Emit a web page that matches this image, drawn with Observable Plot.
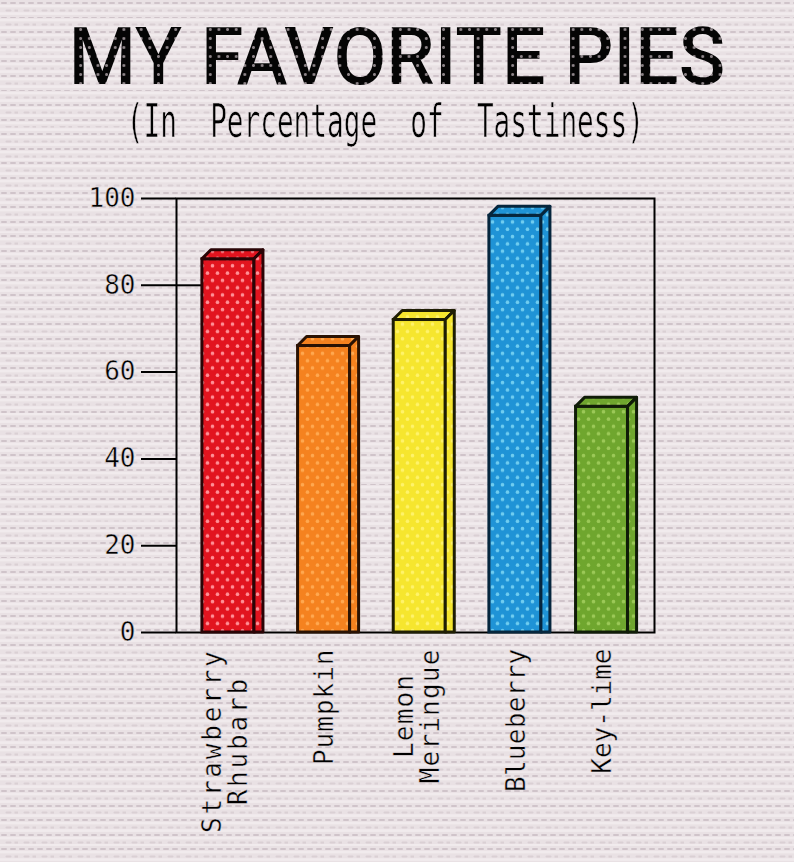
<!DOCTYPE html>
<html>
<head>
<meta charset="utf-8">
<script src="https://cdn.jsdelivr.net/npm/d3@7"></script>
<script src="https://cdn.jsdelivr.net/npm/@observablehq/plot@0.6"></script>
<style>
html,body{margin:0;padding:0;width:794px;height:862px;overflow:hidden;}
body{
  background-color:#e9e1e4;
  background-image:url("data:image/svg+xml,%3Csvg xmlns='http://www.w3.org/2000/svg' width='18' height='14.6'%3E%3Crect x='0' y='0' width='18' height='14.6' fill='%23e9e1e4'/%3E%3Crect x='0' y='4.6' width='18' height='2.6' fill='%23f1ebed'/%3E%3Crect x='0' y='11.9' width='18' height='2.6' fill='%23f1ebed'/%3E%3Crect x='1' y='2' width='6' height='2' rx='1' fill='%23c8bbc1' opacity='.75'/%3E%3Crect x='10' y='2' width='6' height='2' rx='1' fill='%23c8bbc1' opacity='.75'/%3E%3Crect x='5.5' y='9.3' width='6' height='2' rx='1' fill='%23d0c4ca' opacity='.6'/%3E%3Crect x='14.5' y='9.3' width='3.5' height='2' fill='%23d0c4ca' opacity='.6'/%3E%3C/svg%3E");
}
#head{position:relative;height:160px;width:794px;overflow:hidden;}
#title{position:absolute;left:0;width:794px;top:25px;text-align:center;white-space:nowrap;
  font:500 80px/64px Roboto,sans-serif;transform:scaleX(.96);transform-origin:397px 50%;
  margin-left:0px;
  background:radial-gradient(circle at 50% 50%,#8d8488 0 1.1px,#050505 1.9px) 0 0/9px 9px;
  -webkit-background-clip:text;background-clip:text;color:transparent;}
#sub{position:absolute;left:0;width:794px;top:92px;text-align:center;white-space:nowrap;
  font:400 47px/58px "DejaVu Sans Mono",monospace;color:#000;word-spacing:28px;
  -webkit-text-stroke:.7px #e9e1e4;transform:scaleX(.59);transform-origin:385px 50%;margin-left:-31px;}
#chart svg{display:block;}
#chart svg text{stroke:#e9e1e4;stroke-width:.4px;}
</style>
</head>
<body>
<div id="head"><div id="title"></div><div id="sub"></div></div>
<div id="chart"></div>
<script>
const titleText = "MY FAVORITE PIES";
const subtitleText = "(In Percentage of Tastiness)";
const pies = ["Strawberry\nRhubarb", "Pumpkin", "Lemon\nMeringue", "Blueberry", "Key-lime"];
const tastiness = [86, 66, 72, 96, 52];
const yTicks = [0, 20, 40, 60, 80, 100];
const thread = ["#e2141f", "#f5821f", "#f6e62e", "#1f93d6", "#6fa62e"];
const highlight = ["#ff8f96", "#ffa850", "#fff36a", "#6fcdf0", "#9cc958"];
const outline = ["#2a0406", "#2a1203", "#1f1e04", "#06263d", "#101c08"];
const tracking = [2.8, 1, 1.2, 0.3, 0];

document.getElementById("title").textContent = titleText;
document.getElementById("sub").textContent = subtitleText;

const mono = '"DejaVu Sans Mono", monospace';
const depth = 9;

const defsSvg = d3.select("body").append("svg").attr("width", 0).attr("height", 0).style("position", "absolute");
const defs = defsSvg.append("defs");
thread.forEach((c, i) => {
  const p = defs.append("pattern").attr("id", "stitch" + i).attr("patternUnits", "userSpaceOnUse")
    .attr("width", 10).attr("height", 14.6);
  p.append("rect").attr("width", 10).attr("height", 14.6).attr("fill", c);
  p.append("circle").attr("cx", 2.5).attr("cy", 3.6).attr("r", 1.8).attr("fill", highlight[i]);
  p.append("circle").attr("cx", 7.5).attr("cy", 10.9).attr("r", 1.8).attr("fill", highlight[i]);
});

function extrude(stroke, fill) {
  return (index, scales, values, dims, ctx, next) => {
    const g = next(index, scales, values, dims, ctx);
    const parent = d3.select(g);
    Array.from(g.querySelectorAll("rect")).forEach(r => {
      const x = +r.getAttribute("x"), y = +r.getAttribute("y");
      const w = +r.getAttribute("width"), h = +r.getAttribute("height");
      const faces = [
        [[x, y], [x + depth, y - depth], [x + w + depth, y - depth], [x + w, y]],
        [[x + w, y], [x + w + depth, y - depth], [x + w + depth, y + h], [x + w, y + h]]
      ];
      faces.forEach(f => parent.append("polygon")
        .attr("points", f.map(p => p.join(",")).join(" "))
        .attr("fill", fill).attr("stroke", stroke).attr("stroke-width", 3).attr("stroke-linejoin", "round"));
    });
    return g;
  };
}

const rows = pies.map((name, i) => ({name, value: tastiness[i], i}));
const slotShift = name => name === "Key-lime" ? -9 : 0;
const labelLength = d => d3.max(d.name.split("\n"), s => s.length) * (15.65 + tracking[d.i]);

const plot = Plot.plot({
  width: 794,
  height: 702,
  marginLeft: 176,
  marginRight: 140,
  marginTop: 38,
  marginBottom: 230,
  style: {background: "transparent", fontFamily: mono, color: "#000", overflow: "visible"},
  x: {domain: pies, range: [178, 660.5], paddingInner: 0.456, paddingOuter: 0.25, round: false, axis: null},
  y: {domain: [0, 100], ticks: yTicks},
  marks: [
    Plot.frame({stroke: "#000", strokeWidth: 2}),
    Plot.ruleY([80], {insetRight: 452, stroke: "#000", strokeWidth: 2}),
    Plot.axisY({
      ticks: yTicks, tickSize: 35, tickPadding: 6, label: null,
      fontSize: 26, fontFamily: mono, stroke: "#000", strokeWidth: 2, fill: "#000"
    }),
    ...rows.map(d => Plot.barY([d], {
      x: "name", y: "value",
      dx: slotShift(d.name),
      fill: `url(#stitch${d.i})`,
      stroke: outline[d.i], strokeWidth: 3,
      render: extrude(outline[d.i], `url(#stitch${d.i})`)
    })),
    ...rows.map(d => Plot.text([d], {
      x: "name", text: "name",
      frameAnchor: "bottom",
      rotate: -90,
      textAnchor: "middle",
      lineAnchor: "middle",
      lineHeight: 1,
      fontSize: 26,
      fontFamily: mono,
      fill: "#000",
      dx: slotShift(d.name) + (d.name.includes("\n") ? -2.5 : 1),
      dy: 16 + labelLength(d) / 2,
      render: (index, scales, values, dims, ctx, next) => {
        const g = next(index, scales, values, dims, ctx);
        g.style.letterSpacing = tracking[d.i] + "px";
        return g;
      }
    }))
  ]
});
document.getElementById("chart").appendChild(plot);
</script>
</body>
</html>
